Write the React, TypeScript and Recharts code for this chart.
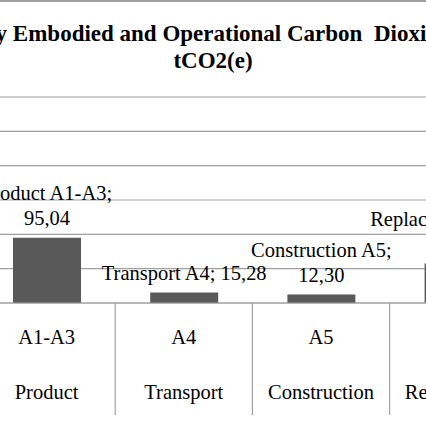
import React from "react";
import { BarChart, Bar, XAxis, YAxis, CartesianGrid, LabelList } from "recharts";

const codes = ["A1-A3", "A4", "A5", "B4"];
const names = ["Product", "Transport", "Construction", "Replacement"];
const values = [95.04, 15.28, 12.3, 57.45];
const yTicks = [0, 50, 100, 150, 200, 250, 300];
const titleLines = ["Summary Embodied and Operational Carbon  Dioxide Emissions", "tCO2(e)"];

const data = codes.map((code, i) => ({ code, label: names[i], amount: values[i] }));

const FONT = '"Liberation Serif", "Times New Roman", serif';
const GRID = "#a0a0a0";
const BAND = 137.2;
const PLOT_W = BAND * codes.length;
const H = 426;
const AXIS_H = 123;

const fmt = (v: number) => v.toFixed(2).replace(".", ",");

const CategoryTick = (props: any) => {
  const { x, y, payload, index } = props;
  const i = typeof index === "number" ? index : codes.indexOf(payload.value);
  return (
    <g>
      <line x1={x + BAND / 2} x2={x + BAND / 2} y1={y} y2={y + 112} stroke={GRID} strokeWidth={1.2} />
      <text x={x} y={y + 41.3} textAnchor="middle" fontFamily={FONT} fontSize={20.5} fill="#000">
        {codes[i]}
      </text>
      <text x={x} y={y + 96.5} textAnchor="middle" fontFamily={FONT} fontSize={20.5} fill="#000">
        {names[i]}
      </text>
    </g>
  );
};

const BarLabel = (props: any) => {
  const { x, y, width, index } = props;
  const cx = Number(x) + Number(width) / 2;
  const top = Number(y);
  const head = `${names[index]} ${codes[index]};`;
  const val = fmt(values[index]);
  const style = { fontFamily: FONT, fontSize: 20.5, fill: "#000" };
  if (index === 1) {
    return (
      <text x={cx} y={top - 12.5} textAnchor="middle" style={style}>
        {`${head} ${val}`}
      </text>
    );
  }
  if (index === 3) {
    // this label was dragged up and sits on a single line
    return (
      <text x={cx + 8} y={top - 38} textAnchor="middle" style={style}>
        {`${head} ${val}`}
      </text>
    );
  }
  return (
    <g>
      <text x={cx} y={top - 37.5} textAnchor="middle" style={style}>
        {head}
      </text>
      <text x={cx} y={top - 12.5} textAnchor="middle" style={style}>
        {val}
      </text>
    </g>
  );
};

export default function App() {
  return (
    <div
      style={{
        position: "fixed",
        left: 0,
        top: 0,
        width: 426,
        height: 426,
        overflow: "hidden",
        background: "#fff",
      }}
    >
      <div style={{ position: "absolute", left: -22.5, top: 0 }}>
        <BarChart
          width={PLOT_W}
          height={H}
          data={data}
          margin={{ top: 97, right: 0, bottom: 0, left: 0 }}
        >
          <CartesianGrid vertical={false} stroke={GRID} strokeWidth={1.2} />
          <YAxis hide type="number" domain={[0, 300]} ticks={yTicks} />
          <XAxis
            dataKey="code"
            type="category"
            height={AXIS_H}
            tickSize={0}
            tickMargin={0}
            tickLine={false}
            axisLine={{ stroke: GRID, strokeWidth: 1.2 }}
            tick={(p: any) => <CategoryTick {...p} />}
            interval={0}
          />
          <Bar dataKey="amount" fill="#595959" barSize={68} isAnimationActive={false}>
            <LabelList dataKey="amount" content={(p: any) => <BarLabel {...p} />} />
          </Bar>
        </BarChart>
      </div>
      <svg width={426} height={100} style={{ position: "absolute", left: 0, top: 0 }}>
        <line x1={0} x2={426} y1={1} y2={1} stroke={GRID} strokeWidth={2} />
        <text
          x={-90}
          y={40.7}
          fontFamily={FONT}
          fontSize={23}
          fontWeight="bold"
          style={{ whiteSpace: "pre" }}
        >
          {titleLines[0]}
        </text>
        <text x={213} y={68.3} textAnchor="middle" fontFamily={FONT} fontSize={23} fontWeight="bold">
          {titleLines[1]}
        </text>
      </svg>
    </div>
  );
}
